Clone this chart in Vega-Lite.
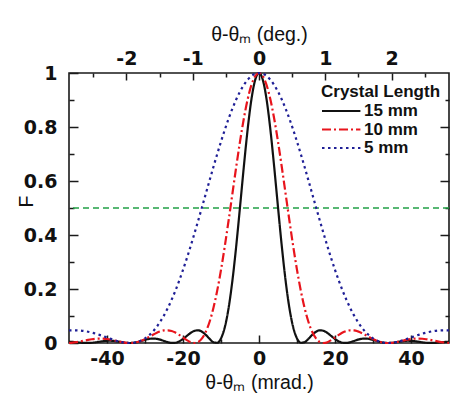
{
"$schema": "https://vega.github.io/schema/vega-lite/v6.json",
"width": 380, "height": 270,
"autosize": {"type": "none"},
"padding": {"left": 69, "top": 73, "right": 25, "bottom": 51},
"background": "white",
"config": {
  "font": "Liberation Sans",
  "view": {"stroke": "#1a1a1a", "strokeWidth": 1.6},
  "axis": {"domain": false, "grid": false, "labelFont": "DejaVu Sans", "labelFontWeight": "bold", "labelFontSize": 19, "labelColor": "#111111", "titleFont": "Liberation Sans", "titleFontSize": 19.5, "titleFontWeight": "normal", "titleColor": "#111111", "tickColor": "#1a1a1a", "tickWidth": 1.5, "labelFlush": false, "labelOverlap": false},
  "legend": {"orient": "none", "legendX": 252, "legendY": 11, "titleFont": "Liberation Sans", "titleFontSize": 17, "titleFontWeight": "bold", "titleColor": "#111111", "labelFont": "Liberation Sans", "labelFontSize": 17, "labelFontWeight": "bold", "labelColor": "#111111", "symbolType": "M-1,0H3.8", "symbolSize": 256, "symbolStrokeWidth": 2, "rowPadding": 1.5, "padding": 0, "titlePadding": 1, "labelOffset": 25}
},
"resolve": {"scale": {"x": "independent"}, "axis": {"x": "independent", "y": "independent"}},
"layer": [
{
  "data": {"values": [{"F": 0.5}]},
  "mark": {"type": "rule", "color": "#22a045", "strokeDash": [6, 4], "strokeWidth": 1.3},
  "encoding": {"y": {"field": "F", "type": "quantitative", "scale": {"domain": [0, 1], "nice": false}, "axis": null}}
},
{
  "data": {"values": [
{"x":-50,"F":0.0048,"L":"15 mm"},{"x":-49,"F":0.0039,"L":"15 mm"},{"x":-48,"F":0.0026,"L":"15 mm"},{"x":-47,"F":0.0012,"L":"15 mm"},{"x":-46,"F":0.0002,"L":"15 mm"},{"x":-45,"F":0.0001,"L":"15 mm"},{"x":-44,"F":0.0009,"L":"15 mm"},{"x":-43,"F":0.0026,"L":"15 mm"},{"x":-42,"F":0.0047,"L":"15 mm"},{"x":-41,"F":0.0067,"L":"15 mm"},
{"x":-40,"F":0.0081,"L":"15 mm"},{"x":-39,"F":0.0083,"L":"15 mm"},{"x":-38,"F":0.0072,"L":"15 mm"},{"x":-37,"F":0.0052,"L":"15 mm"},{"x":-36,"F":0.0028,"L":"15 mm"},{"x":-35,"F":0.0008,"L":"15 mm"},{"x":-34,"F":0,"L":"15 mm"},{"x":-33,"F":0.0009,"L":"15 mm"},{"x":-32,"F":0.0035,"L":"15 mm"},{"x":-31,"F":0.0074,"L":"15 mm"},
{"x":-30,"F":0.0116,"L":"15 mm"},{"x":-29,"F":0.015,"L":"15 mm"},{"x":-28,"F":0.0165,"L":"15 mm"},{"x":-27,"F":0.0155,"L":"15 mm"},{"x":-26,"F":0.0123,"L":"15 mm"},{"x":-25,"F":0.0076,"L":"15 mm"},{"x":-24,"F":0.003,"L":"15 mm"},{"x":-23,"F":0.0002,"L":"15 mm"},{"x":-22,"F":0.0009,"L":"15 mm"},{"x":-21,"F":0.0059,"L":"15 mm"},
{"x":-20,"F":0.0148,"L":"15 mm"},{"x":-19,"F":0.0261,"L":"15 mm"},{"x":-18,"F":0.0372,"L":"15 mm"},{"x":-17,"F":0.045,"L":"15 mm"},{"x":-16,"F":0.047,"L":"15 mm"},{"x":-15,"F":0.0418,"L":"15 mm"},{"x":-14,"F":0.0301,"L":"15 mm"},{"x":-13,"F":0.0153,"L":"15 mm"},{"x":-12,"F":0.0031,"L":"15 mm"},{"x":-11,"F":0.0009,"L":"15 mm"},
{"x":-10,"F":0.017,"L":"15 mm"},{"x":-9,"F":0.0583,"L":"15 mm"},{"x":-8,"F":0.1295,"L":"15 mm"},{"x":-7,"F":0.2309,"L":"15 mm"},{"x":-6,"F":0.3584,"L":"15 mm"},{"x":-5,"F":0.503,"L":"15 mm"},{"x":-4,"F":0.6518,"L":"15 mm"},{"x":-3,"F":0.7897,"L":"15 mm"},{"x":-2,"F":0.9017,"L":"15 mm"},{"x":-1,"F":0.9746,"L":"15 mm"},
{"x":0,"F":1,"L":"15 mm"},
{"x":1,"F":0.9746,"L":"15 mm"},{"x":2,"F":0.9017,"L":"15 mm"},{"x":3,"F":0.7897,"L":"15 mm"},{"x":4,"F":0.6518,"L":"15 mm"},{"x":5,"F":0.503,"L":"15 mm"},{"x":6,"F":0.3584,"L":"15 mm"},{"x":7,"F":0.2309,"L":"15 mm"},{"x":8,"F":0.1295,"L":"15 mm"},{"x":9,"F":0.0583,"L":"15 mm"},{"x":10,"F":0.017,"L":"15 mm"},
{"x":11,"F":0.0009,"L":"15 mm"},{"x":12,"F":0.0031,"L":"15 mm"},{"x":13,"F":0.0153,"L":"15 mm"},{"x":14,"F":0.0301,"L":"15 mm"},{"x":15,"F":0.0418,"L":"15 mm"},{"x":16,"F":0.047,"L":"15 mm"},{"x":17,"F":0.045,"L":"15 mm"},{"x":18,"F":0.0372,"L":"15 mm"},{"x":19,"F":0.0261,"L":"15 mm"},{"x":20,"F":0.0148,"L":"15 mm"},
{"x":21,"F":0.0059,"L":"15 mm"},{"x":22,"F":0.0009,"L":"15 mm"},{"x":23,"F":0.0002,"L":"15 mm"},{"x":24,"F":0.003,"L":"15 mm"},{"x":25,"F":0.0076,"L":"15 mm"},{"x":26,"F":0.0123,"L":"15 mm"},{"x":27,"F":0.0155,"L":"15 mm"},{"x":28,"F":0.0165,"L":"15 mm"},{"x":29,"F":0.015,"L":"15 mm"},{"x":30,"F":0.0116,"L":"15 mm"},
{"x":31,"F":0.0074,"L":"15 mm"},{"x":32,"F":0.0035,"L":"15 mm"},{"x":33,"F":0.0009,"L":"15 mm"},{"x":34,"F":0,"L":"15 mm"},{"x":35,"F":0.0008,"L":"15 mm"},{"x":36,"F":0.0028,"L":"15 mm"},{"x":37,"F":0.0052,"L":"15 mm"},{"x":38,"F":0.0072,"L":"15 mm"},{"x":39,"F":0.0083,"L":"15 mm"},{"x":40,"F":0.0081,"L":"15 mm"},
{"x":41,"F":0.0067,"L":"15 mm"},{"x":42,"F":0.0047,"L":"15 mm"},{"x":43,"F":0.0026,"L":"15 mm"},{"x":44,"F":0.0009,"L":"15 mm"},{"x":45,"F":0.0001,"L":"15 mm"},{"x":46,"F":0.0002,"L":"15 mm"},{"x":47,"F":0.0012,"L":"15 mm"},{"x":48,"F":0.0026,"L":"15 mm"},{"x":49,"F":0.0039,"L":"15 mm"},{"x":50,"F":0.0048,"L":"15 mm"},

{"x":-50,"F":0.0004,"L":"10 mm"},{"x":-49,"F":0.0016,"L":"10 mm"},{"x":-48,"F":0.0035,"L":"10 mm"},{"x":-47,"F":0.006,"L":"10 mm"},{"x":-46,"F":0.0088,"L":"10 mm"},{"x":-45,"F":0.0116,"L":"10 mm"},{"x":-44,"F":0.014,"L":"10 mm"},{"x":-43,"F":0.0157,"L":"10 mm"},{"x":-42,"F":0.0165,"L":"10 mm"},{"x":-41,"F":0.0161,"L":"10 mm"},
{"x":-40,"F":0.0147,"L":"10 mm"},{"x":-39,"F":0.0123,"L":"10 mm"},{"x":-38,"F":0.0092,"L":"10 mm"},{"x":-37,"F":0.0059,"L":"10 mm"},{"x":-36,"F":0.003,"L":"10 mm"},{"x":-35,"F":0.0008,"L":"10 mm"},{"x":-34,"F":0,"L":"10 mm"},{"x":-33,"F":0.0009,"L":"10 mm"},{"x":-32,"F":0.0037,"L":"10 mm"},{"x":-31,"F":0.0084,"L":"10 mm"},
{"x":-30,"F":0.0148,"L":"10 mm"},{"x":-29,"F":0.0222,"L":"10 mm"},{"x":-28,"F":0.0299,"L":"10 mm"},{"x":-27,"F":0.0372,"L":"10 mm"},{"x":-26,"F":0.043,"L":"10 mm"},{"x":-25,"F":0.0465,"L":"10 mm"},{"x":-24,"F":0.047,"L":"10 mm"},{"x":-23,"F":0.0444,"L":"10 mm"},{"x":-22,"F":0.0385,"L":"10 mm"},{"x":-21,"F":0.0301,"L":"10 mm"},
{"x":-20,"F":0.0203,"L":"10 mm"},{"x":-19,"F":0.0106,"L":"10 mm"},{"x":-18,"F":0.0031,"L":"10 mm"},{"x":-17,"F":0,"L":"10 mm"},{"x":-16,"F":0.0039,"L":"10 mm"},{"x":-15,"F":0.017,"L":"10 mm"},{"x":-14,"F":0.0414,"L":"10 mm"},{"x":-13,"F":0.0786,"L":"10 mm"},{"x":-12,"F":0.1295,"L":"10 mm"},{"x":-11,"F":0.1939,"L":"10 mm"},
{"x":-10,"F":0.2709,"L":"10 mm"},{"x":-9,"F":0.3584,"L":"10 mm"},{"x":-8,"F":0.4536,"L":"10 mm"},{"x":-7,"F":0.5528,"L":"10 mm"},{"x":-6,"F":0.6518,"L":"10 mm"},{"x":-5,"F":0.7459,"L":"10 mm"},{"x":-4,"F":0.8306,"L":"10 mm"},{"x":-3,"F":0.9017,"L":"10 mm"},{"x":-2,"F":0.9553,"L":"10 mm"},{"x":-1,"F":0.9887,"L":"10 mm"},
{"x":0,"F":1,"L":"10 mm"},
{"x":1,"F":0.9887,"L":"10 mm"},{"x":2,"F":0.9553,"L":"10 mm"},{"x":3,"F":0.9017,"L":"10 mm"},{"x":4,"F":0.8306,"L":"10 mm"},{"x":5,"F":0.7459,"L":"10 mm"},{"x":6,"F":0.6518,"L":"10 mm"},{"x":7,"F":0.5528,"L":"10 mm"},{"x":8,"F":0.4536,"L":"10 mm"},{"x":9,"F":0.3584,"L":"10 mm"},{"x":10,"F":0.2709,"L":"10 mm"},
{"x":11,"F":0.1939,"L":"10 mm"},{"x":12,"F":0.1295,"L":"10 mm"},{"x":13,"F":0.0786,"L":"10 mm"},{"x":14,"F":0.0414,"L":"10 mm"},{"x":15,"F":0.017,"L":"10 mm"},{"x":16,"F":0.0039,"L":"10 mm"},{"x":17,"F":0,"L":"10 mm"},{"x":18,"F":0.0031,"L":"10 mm"},{"x":19,"F":0.0106,"L":"10 mm"},{"x":20,"F":0.0203,"L":"10 mm"},
{"x":21,"F":0.0301,"L":"10 mm"},{"x":22,"F":0.0385,"L":"10 mm"},{"x":23,"F":0.0444,"L":"10 mm"},{"x":24,"F":0.047,"L":"10 mm"},{"x":25,"F":0.0465,"L":"10 mm"},{"x":26,"F":0.043,"L":"10 mm"},{"x":27,"F":0.0372,"L":"10 mm"},{"x":28,"F":0.0299,"L":"10 mm"},{"x":29,"F":0.0222,"L":"10 mm"},{"x":30,"F":0.0148,"L":"10 mm"},
{"x":31,"F":0.0084,"L":"10 mm"},{"x":32,"F":0.0037,"L":"10 mm"},{"x":33,"F":0.0009,"L":"10 mm"},{"x":34,"F":0,"L":"10 mm"},{"x":35,"F":0.0008,"L":"10 mm"},{"x":36,"F":0.003,"L":"10 mm"},{"x":37,"F":0.0059,"L":"10 mm"},{"x":38,"F":0.0092,"L":"10 mm"},{"x":39,"F":0.0123,"L":"10 mm"},{"x":40,"F":0.0147,"L":"10 mm"},
{"x":41,"F":0.0161,"L":"10 mm"},{"x":42,"F":0.0165,"L":"10 mm"},{"x":43,"F":0.0157,"L":"10 mm"},{"x":44,"F":0.014,"L":"10 mm"},{"x":45,"F":0.0116,"L":"10 mm"},{"x":46,"F":0.0088,"L":"10 mm"},{"x":47,"F":0.006,"L":"10 mm"},{"x":48,"F":0.0035,"L":"10 mm"},{"x":49,"F":0.0016,"L":"10 mm"},{"x":50,"F":0.0004,"L":"10 mm"},

{"x":-50,"F":0.0465,"L":"5 mm"},{"x":-49,"F":0.0471,"L":"5 mm"},{"x":-48,"F":0.047,"L":"5 mm"},{"x":-47,"F":0.0461,"L":"5 mm"},{"x":-46,"F":0.0444,"L":"5 mm"},{"x":-45,"F":0.0418,"L":"5 mm"},{"x":-44,"F":0.0385,"L":"5 mm"},{"x":-43,"F":0.0346,"L":"5 mm"},{"x":-42,"F":0.0301,"L":"5 mm"},{"x":-41,"F":0.0253,"L":"5 mm"},
{"x":-40,"F":0.0203,"L":"5 mm"},{"x":-39,"F":0.0153,"L":"5 mm"},{"x":-38,"F":0.0106,"L":"5 mm"},{"x":-37,"F":0.0064,"L":"5 mm"},{"x":-36,"F":0.0031,"L":"5 mm"},{"x":-35,"F":0.0008,"L":"5 mm"},{"x":-34,"F":0,"L":"5 mm"},{"x":-33,"F":0.0009,"L":"5 mm"},{"x":-32,"F":0.0039,"L":"5 mm"},{"x":-31,"F":0.0091,"L":"5 mm"},
{"x":-30,"F":0.017,"L":"5 mm"},{"x":-29,"F":0.0277,"L":"5 mm"},{"x":-28,"F":0.0414,"L":"5 mm"},{"x":-27,"F":0.0583,"L":"5 mm"},{"x":-26,"F":0.0786,"L":"5 mm"},{"x":-25,"F":0.1023,"L":"5 mm"},{"x":-24,"F":0.1295,"L":"5 mm"},{"x":-23,"F":0.1601,"L":"5 mm"},{"x":-22,"F":0.1939,"L":"5 mm"},{"x":-21,"F":0.2309,"L":"5 mm"},
{"x":-20,"F":0.2709,"L":"5 mm"},{"x":-19,"F":0.3135,"L":"5 mm"},{"x":-18,"F":0.3584,"L":"5 mm"},{"x":-17,"F":0.4053,"L":"5 mm"},{"x":-16,"F":0.4536,"L":"5 mm"},{"x":-15,"F":0.503,"L":"5 mm"},{"x":-14,"F":0.5528,"L":"5 mm"},{"x":-13,"F":0.6026,"L":"5 mm"},{"x":-12,"F":0.6518,"L":"5 mm"},{"x":-11,"F":0.6997,"L":"5 mm"},
{"x":-10,"F":0.7459,"L":"5 mm"},{"x":-9,"F":0.7897,"L":"5 mm"},{"x":-8,"F":0.8306,"L":"5 mm"},{"x":-7,"F":0.8681,"L":"5 mm"},{"x":-6,"F":0.9017,"L":"5 mm"},{"x":-5,"F":0.9308,"L":"5 mm"},{"x":-4,"F":0.9553,"L":"5 mm"},{"x":-3,"F":0.9746,"L":"5 mm"},{"x":-2,"F":0.9887,"L":"5 mm"},{"x":-1,"F":0.9972,"L":"5 mm"},
{"x":0,"F":1,"L":"5 mm"},
{"x":1,"F":0.9972,"L":"5 mm"},{"x":2,"F":0.9887,"L":"5 mm"},{"x":3,"F":0.9746,"L":"5 mm"},{"x":4,"F":0.9553,"L":"5 mm"},{"x":5,"F":0.9308,"L":"5 mm"},{"x":6,"F":0.9017,"L":"5 mm"},{"x":7,"F":0.8681,"L":"5 mm"},{"x":8,"F":0.8306,"L":"5 mm"},{"x":9,"F":0.7897,"L":"5 mm"},{"x":10,"F":0.7459,"L":"5 mm"},
{"x":11,"F":0.6997,"L":"5 mm"},{"x":12,"F":0.6518,"L":"5 mm"},{"x":13,"F":0.6026,"L":"5 mm"},{"x":14,"F":0.5528,"L":"5 mm"},{"x":15,"F":0.503,"L":"5 mm"},{"x":16,"F":0.4536,"L":"5 mm"},{"x":17,"F":0.4053,"L":"5 mm"},{"x":18,"F":0.3584,"L":"5 mm"},{"x":19,"F":0.3135,"L":"5 mm"},{"x":20,"F":0.2709,"L":"5 mm"},
{"x":21,"F":0.2309,"L":"5 mm"},{"x":22,"F":0.1939,"L":"5 mm"},{"x":23,"F":0.1601,"L":"5 mm"},{"x":24,"F":0.1295,"L":"5 mm"},{"x":25,"F":0.1023,"L":"5 mm"},{"x":26,"F":0.0786,"L":"5 mm"},{"x":27,"F":0.0583,"L":"5 mm"},{"x":28,"F":0.0414,"L":"5 mm"},{"x":29,"F":0.0277,"L":"5 mm"},{"x":30,"F":0.017,"L":"5 mm"},
{"x":31,"F":0.0091,"L":"5 mm"},{"x":32,"F":0.0039,"L":"5 mm"},{"x":33,"F":0.0009,"L":"5 mm"},{"x":34,"F":0,"L":"5 mm"},{"x":35,"F":0.0008,"L":"5 mm"},{"x":36,"F":0.0031,"L":"5 mm"},{"x":37,"F":0.0064,"L":"5 mm"},{"x":38,"F":0.0106,"L":"5 mm"},{"x":39,"F":0.0153,"L":"5 mm"},{"x":40,"F":0.0203,"L":"5 mm"},
{"x":41,"F":0.0253,"L":"5 mm"},{"x":42,"F":0.0301,"L":"5 mm"},{"x":43,"F":0.0346,"L":"5 mm"},{"x":44,"F":0.0385,"L":"5 mm"},{"x":45,"F":0.0418,"L":"5 mm"},{"x":46,"F":0.0444,"L":"5 mm"},{"x":47,"F":0.0461,"L":"5 mm"},{"x":48,"F":0.047,"L":"5 mm"},{"x":49,"F":0.0471,"L":"5 mm"},{"x":50,"F":0.0465,"L":"5 mm"}
  ]},
  "mark": {"type": "line", "interpolate": "monotone", "strokeWidth": 2.2},
  "encoding": {
    "x": {"field": "x", "type": "quantitative", "scale": {"domain": [-50, 50], "nice": false},
      "axis": {"orient": "bottom", "title": "θ-θₘ (mrad.)", "values": [-40, -30, -20, -10, 0, 10, 20, 30, 40],
        "labelExpr": "datum.value % 20 === 0 ? ('' + datum.value) : ''",
        "tickSize": {"condition": {"test": "datum.value % 20 === 0", "value": -8}, "value": -4},
        "labelPadding": 14, "titlePadding": 1}},
    "y": {"field": "F", "type": "quantitative", "scale": {"domain": [0, 1], "nice": false},
      "axis": {"orient": "left", "title": "F", "values": [0, 0.1, 0.2, 0.3, 0.4, 0.5, 0.6, 0.7, 0.8, 0.9, 1],
        "labelExpr": "round(datum.value * 10) % 2 === 0 ? ('' + datum.value) : ''",
        "tickSize": {"condition": {"test": "round(datum.value * 10) % 2 === 0", "value": -9}, "value": -5},
        "labelPadding": 21, "titleX": -33, "titleY": 128}},
    "color": {"field": "L", "type": "nominal", "title": "Crystal Length",
      "scale": {"domain": ["15 mm", "10 mm", "5 mm"], "range": ["#111111", "#e8141c", "#1f1f96"]}},
    "strokeDash": {"field": "L", "type": "nominal", "title": "Crystal Length",
      "scale": {"domain": ["15 mm", "10 mm", "5 mm"], "range": [[1, 0], [9, 3, 2, 3], [2.5, 3.5]]}}
  }
},
{
  "data": {"values": [{"deg": -2.8648, "F": 0}, {"deg": 2.8648, "F": 1}]},
  "mark": {"type": "point", "opacity": 0},
  "encoding": {
    "x": {"field": "deg", "type": "quantitative", "scale": {"domain": [-2.8648, 2.8648], "nice": false},
      "axis": {"orient": "top", "title": "θ-θₘ (deg.)", "values": [-2.5, -2, -1.5, -1, -0.5, 0, 0.5, 1, 1.5, 2, 2.5],
        "labelExpr": "datum.value % 1 === 0 ? ('' + datum.value) : ''",
        "tickSize": {"condition": {"test": "datum.value % 1 === 0", "value": -7}, "value": -4},
        "labelPadding": 12, "titlePadding": 2}},
    "y": {"field": "F", "type": "quantitative",
      "axis": {"orient": "right", "title": null, "labels": false, "values": [0.1, 0.2, 0.3, 0.4, 0.5, 0.6, 0.7, 0.8, 0.9],
        "tickSize": {"condition": {"test": "round(datum.value * 10) % 2 === 0", "value": -9}, "value": -4}}}
  }
}
]
}
